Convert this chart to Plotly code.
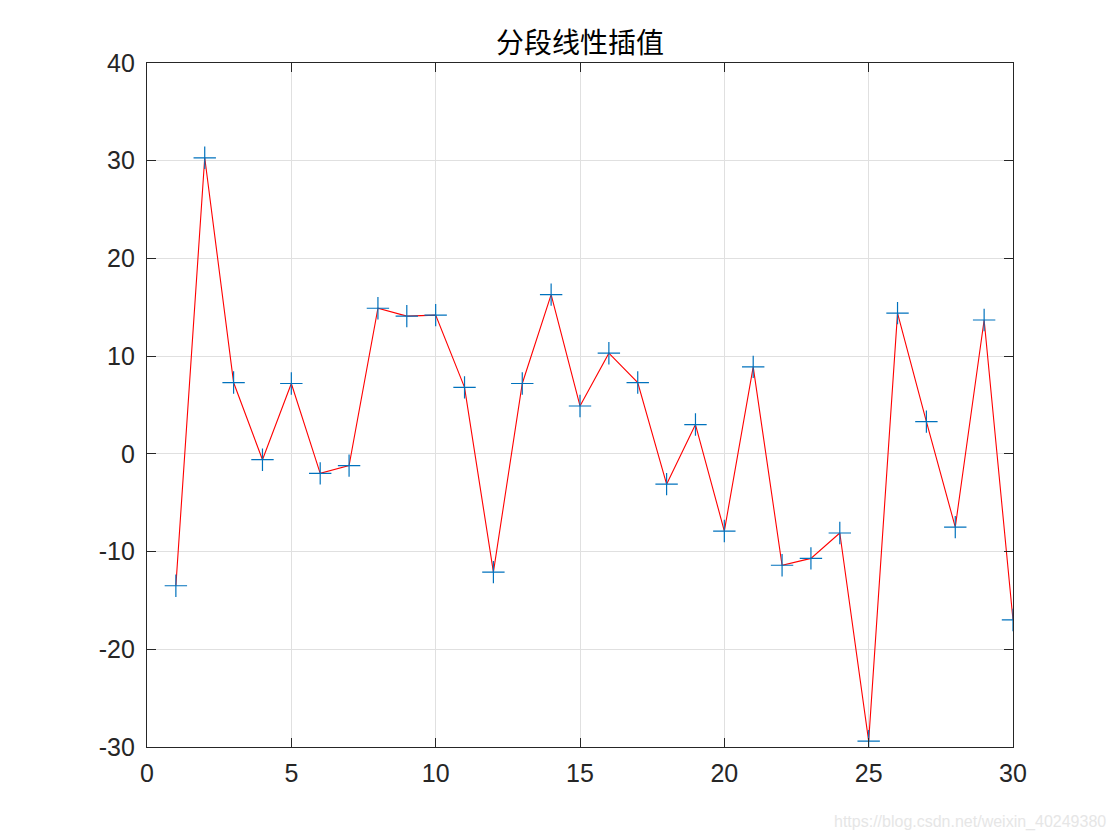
import plotly.graph_objects as go

x_vals = list(range(1, 31))
y_vals = [-13.5, 30.3, 7.3, -0.6, 7.2, -2.0, -1.2, 14.9, 14.1, 14.2,
          6.8, -12.1, 7.2, 16.3, 4.9, 10.3, 7.3, -3.1, 3.0, -7.9,
          8.9, -11.4, -10.7, -8.1, -29.4, 14.4, 3.3, -7.5, 13.7, -17.0]
title_text = "分段线性插值"
watermark_text = "https://blog.csdn.net/weixin_40249380"
x_ticks = [0, 5, 10, 15, 20, 25, 30]
y_ticks = [-30, -20, -10, 0, 10, 20, 30, 40]
x_ticktext = [str(v) for v in x_ticks]
y_ticktext = [str(v) for v in y_ticks]

fig = go.Figure()
fig.add_trace(go.Scatter(
    x=x_vals, y=y_vals, mode="lines",
    line=dict(color="#ff0000", width=1.1),
    showlegend=False, hoverinfo="skip"))
fig.add_trace(go.Scatter(
    x=x_vals, y=y_vals, mode="markers",
    marker=dict(symbol="cross-thin", size=16,
                line=dict(color="#0072BD", width=1.2)),
    showlegend=False))

axis_common = dict(
    showgrid=True, gridcolor="#e0e0e0", gridwidth=1,
    showline=True, linecolor="#262626", linewidth=1.2, mirror="ticks",
    ticks="inside", ticklen=9, tickwidth=1.2, tickcolor="#262626",
    zeroline=False,
    tickfont=dict(family="Liberation Sans, Arial", size=25, color="#262626"),
)

fig.update_xaxes(range=[0, 30], tickvals=x_ticks, ticktext=x_ticktext,
                 ticklabelstandoff=4, **axis_common)
fig.update_yaxes(range=[-30, 40], tickvals=y_ticks, ticktext=y_ticktext,
                 ticklabelstandoff=6, **axis_common)

# page body has an 8px margin; compensate so the plot area sits where it should
fig.update_layout(
    width=1112, height=832,
    margin=dict(l=139, r=107, t=55, b=93),
    paper_bgcolor="white", plot_bgcolor="white",
    title=dict(text=title_text, x=0.5, xanchor="center",
               xref="paper", yref="container", y=0.958, yanchor="middle",
               font=dict(family="Noto Sans CJK SC", size=28, color="#000000")),
)

fig.add_annotation(
    text=watermark_text, xref="paper", yref="paper",
    x=1.11, y=-0.109, xanchor="right", yanchor="middle", showarrow=False,
    font=dict(family="Liberation Sans, Arial", size=16, color="#e6e6e6"),
)

fig.write_html("out.html")
